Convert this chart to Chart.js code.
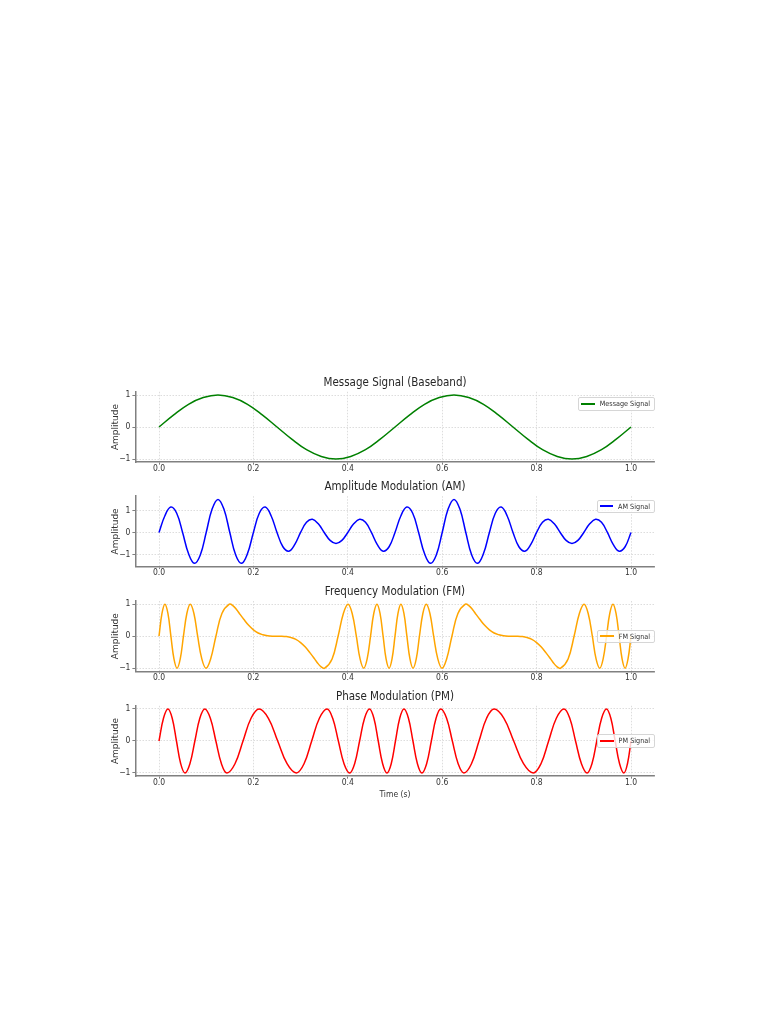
<!DOCTYPE html>
<html>
<head>
<meta charset="utf-8">
<script src="https://cdn.jsdelivr.net/npm/chart.js@4.4.1/dist/chart.umd.min.js"></script>
<style>
  html, body { margin: 0; padding: 0; background: #fff; }
  body { width: 768px; height: 1024px; position: relative; overflow: hidden;
         font-family: "DejaVu Sans Condensed", "DejaVu Sans", sans-serif; }
  .panel { position: absolute; left: 95px; }
  .legend { position: absolute; right: 113.5px; height: 13.5px; box-sizing: border-box;
            border: 1px solid #d6d6d6; border-radius: 2px; background: rgba(255,255,255,0.8);
            font-size: 7.2px; color: #333; display: flex; align-items: center;
            padding: 0 3.5px 0 2px; white-space: nowrap; }
  .legend i { display: inline-block; width: 13.5px; height: 2px; margin-right: 4.8px; }
</style>
</head>
<body>
<script>
// shared axis ticks
const timeTicks = [0, 0.2, 0.4, 0.6, 0.8, 1.0];
const ampTicks = [-1, 0, 1];

// message signal (baseband)
const msgTime = [0, 0.03125, 0.0625, 0.09375, 0.125, 0.15625, 0.1875, 0.21875, 0.25, 0.28125, 0.3125, 0.34375,
  0.375, 0.40625, 0.4375, 0.46875, 0.5, 0.53125, 0.5625, 0.59375, 0.625, 0.65625, 0.6875, 0.71875, 0.75,
  0.78125, 0.8125, 0.84375, 0.875, 0.90625, 0.9375, 0.96875, 1.0];
const msgValue = [0, 0.38, 0.71, 0.92, 1, 0.92, 0.71, 0.38, 0, -0.38, -0.71, -0.92, -1, -0.92, -0.71, -0.38,
  0, 0.38, 0.71, 0.92, 1, 0.92, 0.71, 0.38, 0, -0.38, -0.71, -0.92, -1, -0.92, -0.71, -0.38, 0];

// AM signal
const amTime = [0, 0.0125, 0.025, 0.0375, 0.05, 0.0625, 0.075, 0.0875, 0.1, 0.1125, 0.125, 0.1375, 0.15, 0.1625,
  0.175, 0.1875, 0.2, 0.2125, 0.225, 0.2375, 0.25, 0.2625, 0.275, 0.2875, 0.3, 0.3125, 0.325, 0.3375, 0.35,
  0.3625, 0.375, 0.3875, 0.4, 0.4125, 0.425, 0.4375, 0.45, 0.4625, 0.475, 0.4875, 0.5, 0.5125, 0.525, 0.5375,
  0.55, 0.5625, 0.575, 0.5875, 0.6, 0.6125, 0.625, 0.6375, 0.65, 0.6625, 0.675, 0.6875, 0.7, 0.7125, 0.725,
  0.7375, 0.75, 0.7625, 0.775, 0.7875, 0.8, 0.8125, 0.825, 0.8375, 0.85, 0.8625, 0.875, 0.8875, 0.9, 0.9125,
  0.925, 0.9375, 0.95, 0.9625, 0.975, 0.9875, 1.0];
const amValue = [0, 0.76, 1.15, 0.87, 0, -0.96, -1.40, -1.02, 0, 1.06, 1.50, 1.06, 0, -1.02, -1.40, -0.96,
  0, 0.87, 1.15, 0.76, 0, -0.65, -0.85, -0.55, 0, 0.46, 0.60, 0.39, 0, -0.36, -0.50, -0.36, 0, 0.39, 0.60, 0.46,
  0, -0.55, -0.85, -0.65, 0,
  0.76, 1.15, 0.87, 0, -0.96, -1.40, -1.02, 0, 1.06, 1.50, 1.06, 0, -1.02, -1.40, -0.96,
  0, 0.87, 1.15, 0.76, 0, -0.65, -0.85, -0.55, 0, 0.46, 0.60, 0.39, 0, -0.36, -0.50, -0.36, 0, 0.39, 0.60, 0.46,
  0, -0.55, -0.85, -0.65, 0];

// FM signal
const fmTime = [0, 0.0063, 0.0125, 0.0189, 0.0252, 0.0317, 0.0382, 0.045, 0.0518, 0.059, 0.0662, 0.074, 0.0819,
  0.0907, 0.0995, 0.1094, 0.1206, 0.1333, 0.149, 0.157, 0.165, 0.1703, 0.18, 0.19, 0.2, 0.21, 0.22, 0.23, 0.24,
  0.25, 0.26, 0.27, 0.28, 0.29, 0.30, 0.31, 0.32, 0.3297, 0.335, 0.343, 0.351, 0.3667, 0.3794, 0.3906, 0.4005,
  0.4093, 0.4181, 0.426, 0.4338, 0.441, 0.4482, 0.455, 0.4618, 0.4683, 0.4748, 0.4811, 0.4875, 0.4937,
  0.5, 0.5063, 0.5125, 0.5189, 0.5252, 0.5317, 0.5382, 0.545, 0.5518, 0.559, 0.5662, 0.574, 0.5819,
  0.5907, 0.5995, 0.6094, 0.6206, 0.6333, 0.649, 0.657, 0.665, 0.6703, 0.68, 0.69, 0.7, 0.71, 0.72, 0.73, 0.74,
  0.75, 0.76, 0.77, 0.78, 0.79, 0.80, 0.81, 0.82, 0.8297, 0.835, 0.843, 0.851, 0.8667, 0.8794, 0.8906, 0.9005,
  0.9093, 0.9181, 0.926, 0.9338, 0.941, 0.9482, 0.955, 0.9618, 0.9683, 0.9748, 0.9811, 0.9875, 0.9937, 1.0];
const fmValue = [0, 0.71, 1, 0.71, 0, -0.71, -1, -0.71, 0, 0.71, 1, 0.71, 0, -0.71, -1, -0.71, 0, 0.71, 1,
  0.95, 0.82, 0.71, 0.52, 0.34, 0.20, 0.10, 0.045, 0.013, 0, 0, 0, -0.013, -0.045, -0.10, -0.20, -0.34, -0.52,
  -0.71, -0.82, -0.95, -1, -0.71, 0, 0.71, 1, 0.71, 0, -0.71, -1, -0.71, 0, 0.71, 1, 0.71, 0, -0.71, -1, -0.71,
  0, 0.71, 1, 0.71, 0, -0.71, -1, -0.71, 0, 0.71, 1, 0.71, 0, -0.71, -1, -0.71, 0, 0.71, 1,
  0.95, 0.82, 0.71, 0.52, 0.34, 0.20, 0.10, 0.045, 0.013, 0, 0, 0, -0.013, -0.045, -0.10, -0.20, -0.34, -0.52,
  -0.71, -0.82, -0.95, -1, -0.71, 0, 0.71, 1, 0.71, 0, -0.71, -1, -0.71, 0, 0.71, 1, 0.71, 0, -0.71, -1, -0.71, 0];

// PM signal
const pmTime = [0, 0.0095, 0.019, 0.028, 0.037, 0.046, 0.055, 0.0655, 0.076, 0.0865, 0.097, 0.1088, 0.1205,
  0.1323, 0.144, 0.161, 0.178, 0.195, 0.212, 0.2318, 0.2515, 0.2713, 0.291, 0.3073, 0.3235, 0.3398, 0.356,
  0.368, 0.380, 0.392, 0.404, 0.4145, 0.425, 0.4355, 0.446, 0.4553, 0.4645, 0.4738, 0.483, 0.492, 0.501,
  0.510, 0.519, 0.5285, 0.538, 0.5475, 0.557, 0.567, 0.577, 0.587, 0.597, 0.6093, 0.6215, 0.6338, 0.646,
  0.662, 0.678, 0.694, 0.710, 0.7308, 0.7515, 0.7723, 0.793, 0.8093, 0.8255, 0.8418, 0.858, 0.8703, 0.8825,
  0.895, 0.907, 0.9173, 0.9275, 0.9378, 0.948, 0.9573, 0.9665, 0.9758, 0.985, 0.9925, 1.0];
const pmValue = [0, 0.71, 1, 0.71, 0, -0.71, -1, -0.71, 0, 0.71, 1, 0.71, 0, -0.71, -1, -0.71,
  0, 0.71, 1, 0.71, 0, -0.71, -1, -0.71, 0, 0.71, 1, 0.71, 0, -0.71, -1, -0.71,
  0, 0.71, 1, 0.71, 0, -0.71, -1, -0.71, 0, 0.71, 1, 0.71, 0, -0.71, -1, -0.71,
  0, 0.71, 1, 0.71, 0, -0.71, -1, -0.71, 0, 0.71, 1, 0.71, 0, -0.71, -1, -0.71,
  0, 0.71, 1, 0.71, 0, -0.71, -1, -0.71, 0, 0.71, 1, 0.71, 0, -0.71, -1, -0.71, 0];

Chart.defaults.font.family = '"DejaVu Sans Condensed", "DejaVu Sans", sans-serif';
Chart.defaults.color = '#333';

// layout (matplotlib-like axes boxes)
const axesLeft = 135.4, axesWidth = 519.2, axesHeight = 70.4;
const canvasLeft = 95, canvasWidth = 600;
const titleBox = 15.8;

const panels = [
  { title: 'Message Signal (Baseband)', label: 'Message Signal', color: 'green', time: msgTime, value: msgValue,
    yMin: -1.1, yMax: 1.1, axesTop: 391.8, legendTop: 397 },
  { title: 'Amplitude Modulation (AM)', label: 'AM Signal', color: 'blue', time: amTime, value: amValue,
    yMin: -1.55, yMax: 1.645, axesTop: 496.2, legendTop: 499.5 },
  { title: 'Frequency Modulation (FM)', label: 'FM Signal', color: 'orange', time: fmTime, value: fmValue,
    yMin: -1.1, yMax: 1.1, axesTop: 601, legendTop: 629.5 },
  { title: 'Phase Modulation (PM)', label: 'PM Signal', color: 'red', time: pmTime, value: pmValue,
    yMin: -1.1, yMax: 1.1, axesTop: 705.8, legendTop: 734, xTitle: true }
];

panels.forEach(p => {
    const xH = p.xTitle ? 26 : 16;
    const top = Math.floor(p.axesTop - 17);
    const need = p.axesTop + axesHeight + xH - top;
    const H = Math.ceil(need);
    const canvas = document.createElement('canvas');
    canvas.className = 'panel';
    canvas.width = canvasWidth;
    canvas.height = H;
    canvas.style.top = top + 'px';
    canvas.style.width = canvasWidth + 'px';
    canvas.style.height = H + 'px';
    document.body.appendChild(canvas);

    new Chart(canvas, {
        type: 'line',
        data: {
            datasets: [{
                label: p.label,
                data: p.time.map((t, i) => ({x: t, y: p.value[i]})),
                borderColor: p.color,
                borderWidth: 1.5,
                pointRadius: 0,
                tension: 0.4,
                fill: false
            }]
        },
        options: {
            responsive: false,
            animation: false,
            devicePixelRatio: 1,
            layout: {padding: {top: p.axesTop - top - titleBox, right: canvasWidth - (axesLeft - canvasLeft) - axesWidth,
                               bottom: H - need, left: 0}},
            plugins: {
                legend: {display: false},
                tooltip: {enabled: false},
                // fullSize false keeps the title centred over the plot area, like matplotlib
                title: {display: true, fullSize: false, text: p.title, color: '#262626',
                        font: {size: 11.5, weight: 'normal'}, padding: {top: 0, bottom: 2}}
            },
            scales: {
                x: {
                    type: 'linear', min: -0.05, max: 1.05,
                    afterBuildTicks: s => { s.ticks = timeTicks.map(v => ({value: v})); },
                    afterFit: s => { s.height = xH; },
                    ticks: {callback: v => Number(v).toFixed(1), color: '#333', font: {size: 8.5},
                            padding: -1.5, maxRotation: 0, autoSkip: false},
                    grid: {color: '#d4d4d4', lineWidth: 0.8, tickLength: 2.5, tickColor: '#808080', tickWidth: 1},
                    border: {color: '#808080', width: 1.5, dash: [1.5, 1.5]},
                    title: {display: !!p.xTitle, text: 'Time (s)', color: '#333', font: {size: 8.5},
                            padding: {top: 0, bottom: 2.8}}
                },
                y: {
                    type: 'linear', min: p.yMin, max: p.yMax,
                    afterBuildTicks: s => { s.ticks = ampTicks.map(v => ({value: v})); },
                    afterFit: s => { s.width = axesLeft - canvasLeft; },
                    ticks: {callback: v => v < 0 ? '\u2212' + Math.abs(v) : String(v), color: '#333',
                            font: {size: 8.5}, padding: 2},
                    grid: {color: '#d4d4d4', lineWidth: 0.8, tickLength: 3, tickColor: '#808080', tickWidth: 1},
                    border: {color: '#808080', width: 1.5, dash: [1.5, 1.5]},
                    title: {display: true, text: 'Amplitude', color: '#333',
                            font: {family: '"DejaVu Sans", sans-serif', size: 9}, padding: {top: 15.6, bottom: 0}}
                }
            }
        }
    });

    // legend box inside the axes
    const lg = document.createElement('div');
    lg.className = 'legend';
    lg.style.top = p.legendTop + 'px';
    lg.innerHTML = '<i style="background:' + p.color + '"></i>' + p.label;
    document.body.appendChild(lg);
});
</script>
</body>
</html>
